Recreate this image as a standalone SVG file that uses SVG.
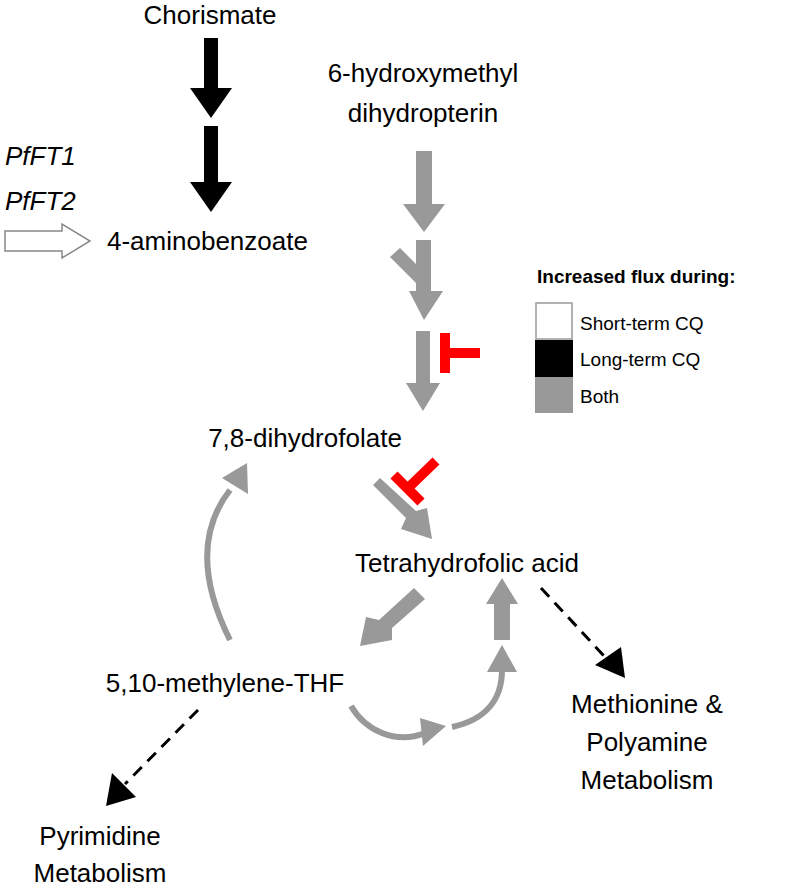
<svg xmlns="http://www.w3.org/2000/svg" width="785" height="888" viewBox="0 0 785 888">
<style>
text{font-family:"Liberation Sans",Arial,sans-serif;font-size:26px;fill:#000}
.c{text-anchor:middle}
.g{fill:#999}
.r{fill:#f00}
.k{fill:#000}
.gs{fill:none;stroke:#999;stroke-width:6}
.rs{fill:none;stroke:#f00;stroke-width:10}
.d{fill:none;stroke:#000;stroke-width:3;stroke-dasharray:12,8}
</style>
<rect width="785" height="888" fill="#fff"/>
<g id="nodes">
<g id="chorismate"><text class="c" x="210" y="24">Chorismate</text></g>
<g id="hmdhp"><text class="c" x="423" y="82">6-hydroxymethyl</text><text class="c" x="423" y="122">dihydropterin</text></g>
<g id="pfft"><text x="5" y="165" font-style="italic">PfFT1</text><text x="5" y="210" font-style="italic">PfFT2</text></g>
<g id="paba"><text x="107" y="250">4-aminobenzoate</text></g>
<g id="dhf"><text class="c" x="305" y="447">7,8-dihydrofolate</text></g>
<g id="thf"><text class="c" x="467" y="572">Tetrahydrofolic acid</text></g>
<g id="mthf"><text class="c" x="225" y="692">5,10-methylene-THF</text></g>
<g id="met"><text class="c" x="647" y="713">Methionine &amp;</text><text class="c" x="647" y="751">Polyamine</text><text class="c" x="647" y="789">Metabolism</text></g>
<g id="pyr"><text class="c" x="100" y="845">Pyrimidine</text><text class="c" x="100" y="882">Metabolism</text></g>
<g id="legend">
<text x="537" y="283" style="font-weight:bold;font-size:19px">Increased flux during:</text>
<rect x="536" y="303" width="36" height="36" fill="#fff" stroke="#999" stroke-width="1.5"/>
<rect x="535" y="340" width="38" height="37" class="k"/>
<rect x="535" y="377" width="38" height="36" class="g"/>
<text x="580" y="330" style="font-size:19px">Short-term CQ</text>
<text x="580" y="366" style="font-size:19px">Long-term CQ</text>
<text x="580" y="403" style="font-size:19px">Both</text>
</g>
</g>
<g id="connectors">
<polygon class="k" points="204,38 218,38 218,88 232,88 211,118 190,88 204,88"/>
<polygon class="k" points="204,126 218,126 218,182 232,182 211,212 190,182 204,182"/>
<polygon points="5,231 62,231 62,224 90,241 62,258 62,251 5,251" fill="#fff" stroke="#888" stroke-width="1.5"/>
<polygon class="g" points="416,151 432,151 432,204 445,204 424,232 403,204 416,204"/>
<polygon class="g" points="416,240 431,240 431,291 443,291 424,320 409,291 416,291 416,283 390,257 400,248 416,264"/>
<polygon class="g" points="416,331 430,331 430,383 440,383 423,411 406,383 416,383"/>
<polygon class="r" points="440,333 450,333 450,348 480,348 480,358 450,358 450,373 440,373"/>
<polygon class="g" points="380,478 373,485 406,518 401,529 432,539 427,508 416,511"/>
<path class="rs" d="M394,475 L421,502 M407,489 L436,461"/>
<polygon class="g" points="414,588 425,599 392,628 392,640 360,646 366,617 379,620"/>
<polygon class="g" points="494,640 510,640 510,604 518,604 502,578 486,604 494,604"/>
<path class="gs" d="M230,640 C205,590 195,535 230,490"/>
<polygon class="g" points="222,478 247,463 248,494"/>
<path class="gs" d="M351,706 C365,730 395,745 425,733"/>
<polygon class="g" points="420,718 446,726 423,746"/>
<path class="gs" d="M452,727 C485,720 502,700 502,670"/>
<polygon class="g" points="487,672 517,672 502,645"/>
<path class="d" d="M541,588 L605,657"/>
<polygon class="k" points="595,665 621,647 625,678"/>
<path class="d" d="M198,710 L125,784"/>
<polygon class="k" points="112,773 136,797 106,806"/>
</g>
</svg>
